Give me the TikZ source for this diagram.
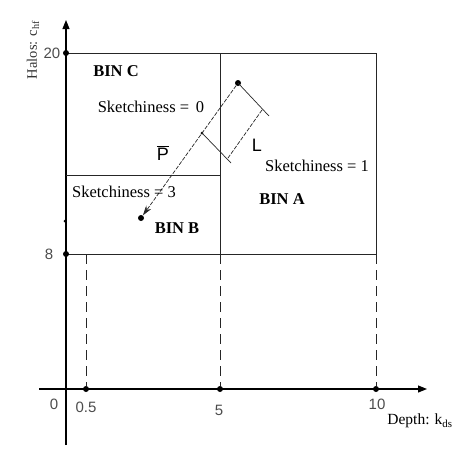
\documentclass[tikz,border=0pt]{standalone}
\usepackage{fontspec}
\setmainfont{Liberation Serif}
\newfontfamily\numfont{Liberation Sans}
\usetikzlibrary{arrows.meta}
\begin{document}
\begin{tikzpicture}[x=1pt,y=-1pt,
  axisline/.style={line width=1.1pt,black},
  boxline/.style={line width=0.8pt,black!85},
  dashline/.style={line width=0.9pt,black!85,dash pattern=on 10pt off 6pt},
  dimdash/.style={line width=0.7pt,black!85,dash pattern=on 4pt off 1.5pt},
  bigdot/.style={circle,fill=black,inner sep=0pt,minimum size=6pt},
  smalldot/.style={circle,fill=black,inner sep=0pt,minimum size=3pt},
  lbl/.style={font=\fontsize{16.5}{18}\selectfont,inner sep=0pt},
  binlbl/.style={font=\fontsize{16.5}{18}\selectfont\bfseries,inner sep=0pt},
  numlbl/.style={font=\numfont\fontsize{15}{17}\selectfont,text=black!70,inner sep=0pt},
  sanslbl/.style={font=\numfont\fontsize{18}{20}\selectfont,inner sep=0pt}
]
\useasboundingbox (0,0) rectangle (474,467);
% axes
\coordinate (ybot) at (66,445);
\coordinate (ytop) at (66,20);
\coordinate (xleft) at (39,389);
\coordinate (xright) at (427,389);
\draw[axisline,-{Triangle[length=9pt,width=7pt]}] (ybot) -- (ytop);
\draw[axisline,-{Triangle[length=9pt,width=7pt]}] (xleft) -- (xright);
% grid corners
\coordinate (c00) at (66,254);
\coordinate (c50) at (220,254);
\coordinate (c100) at (376,254);
\coordinate (c020) at (66,53);
\coordinate (c520) at (220,53);
\coordinate (c1020) at (376,53);
\coordinate (m0) at (66,175);
\coordinate (m5) at (220,175);
\draw[boxline] (c020) -- (c1020) -- (c100) -- (c00);
\draw[boxline] (c520) -- (c50);
\draw[boxline] (m0) -- (m5);
% dashed projections
\node[bigdot] (d05) at (86,389) {};
\node[bigdot] (d5) at (220,389) {};
\node[bigdot] (d10) at (376,389) {};
\coordinate (t05) at (86,254);
\draw[dashline] (t05) -- (d05);
\draw[dashline] (c50) -- (d5);
\draw[dashline] (c100) -- (d10);
% axis dots
\node[bigdot] (d20) at (c020) {};
\node[bigdot] (d8) at (c00) {};
\node[smalldot] (dmid) at (65,221) {};
% vector
\node[bigdot] (ptop) at (238,83) {};
\node[bigdot] (pbot) at (141,218) {};
\node[smalldot] (pmid) at (202,133) {};
\draw[dimdash,-{Stealth[length=10pt,width=6pt]}] (ptop) -- (pbot);
% dimension L
\coordinate (e1) at (231,163);
\coordinate (e2) at (269,116);
\draw[line width=0.7pt,black!85] (pmid.center) -- (e1);
\draw[line width=0.7pt,black!85] (ptop.center) -- (e2);
\coordinate (l1) at (262,110);
\coordinate (l2) at (228,158);
\draw[dimdash] (l1) -- (l2);
% labels
\node[binlbl] (binc) at (116,71) {BIN C};
\node[binlbl] (binb) at (177,228) {BIN B};
\node[binlbl] (bina) at (282,199) {BIN A};
\node[lbl] (s0) at (151,107) {Sketchiness =\, 0};
\node[lbl] (s3) at (124,192) {Sketchiness = 3};
\node[lbl] (s1) at (317,166) {Sketchiness = 1};
\node[sanslbl] (pl) at (163,153) {$\overline{\mbox{P}}$};
\node[sanslbl,font=\numfont\fontsize{18}{20}\selectfont] (ll) at (257,145) {L};
\node[numlbl] (n20) at (52,53) {20};
\node[numlbl] (n8) at (49,254) {8};
\node[numlbl] (n0) at (54,404) {0};
\node[numlbl] (n05) at (86,407) {0.5};
\node[numlbl] (n5) at (219,410) {5};
\node[numlbl] (n10) at (377,404) {10};
\node[lbl,font=\fontsize{15.5}{17}\selectfont] (xl) at (420,421) {Depth: k$_{\mathrm{ds}}$};
\node[lbl,font=\fontsize{14.5}{16}\selectfont,rotate=90,text=black!80] (yl) at (33,50) {Halos: c$_{\mathrm{hf}}$};
\end{tikzpicture}
\end{document}
